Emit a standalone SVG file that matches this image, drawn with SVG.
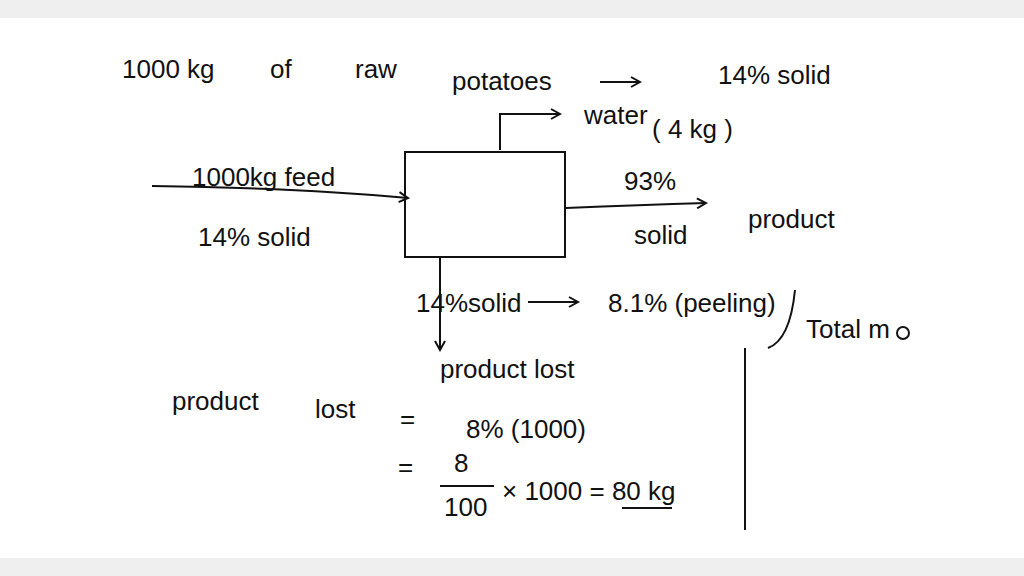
<svg xmlns="http://www.w3.org/2000/svg" width="1024" height="576" viewBox="0 0 1024 576">
<style>
text{font-family:"Liberation Sans",sans-serif;font-size:26px;fill:#111}
.l{stroke:#111;stroke-width:2;fill:none}
</style>
<defs><marker id="a" markerWidth="12" markerHeight="12" refX="10" refY="6" orient="auto" markerUnits="userSpaceOnUse"><path d="M1,1 L10,6 L1,11" class="l"/></marker></defs>
<rect width="1024" height="576" fill="#efefef"/>
<rect x="0" y="18" width="1024" height="540" fill="#fff"/>
<text x="122" y="78">1000 kg</text>
<text x="270" y="78">of</text>
<text x="355" y="78">raw</text>
<text x="452" y="90">potatoes</text>
<text x="718" y="84">14%  solid</text>
<text x="584" y="124" font-size="20">water</text>
<text x="652" y="138">( 4 kg )</text>
<text x="192" y="186" font-size="22">1000kg  feed</text>
<text x="198" y="246">14%  solid</text>
<text x="624" y="190" font-size="22">93%</text>
<text x="634" y="244" font-size="22">solid</text>
<text x="748" y="228">product</text>
<text x="416" y="312" font-size="20">14%solid</text>
<text x="608" y="312" font-size="22">8.1% (peeling)</text>
<text x="806" y="338" font-size="22">Total m</text>
<circle cx="903" cy="333" r="6" class="l" stroke="#2233cc"/>
<text x="440" y="378" font-size="24">product  lost</text>
<text x="172" y="410">product</text>
<text x="315" y="418">lost</text>
<text x="400" y="428">=</text>
<text x="466" y="438">8%  (1000)</text>
<text x="398" y="476">=</text>
<text x="454" y="472" font-size="22">8</text>
<line x1="440" y1="486" x2="494" y2="486" class="l"/>
<text x="444" y="516" font-size="22">100</text>
<text x="502" y="500">× 1000 = 80 kg</text>
<line x1="622" y1="508" x2="672" y2="508" class="l"/>
<g id="connectors">
<path d="M152,186 Q300,188 408,198" class="l" marker-end="url(#a)"/>
<path d="M500,150 V114 H560" class="l" marker-end="url(#a)"/>
<path d="M600,82 H640" class="l" marker-end="url(#a)"/>
<path d="M566,208 Q640,205 706,203" class="l" marker-end="url(#a)"/>
<path d="M440,258 V350" class="l" marker-end="url(#a)"/>
<path d="M528,302 H578" class="l" marker-end="url(#a)"/>
<path d="M745,348 V530" class="l"/>
<path d="M795,290 Q790,340 768,348" class="l"/>
</g>
<g id="box"><rect x="405" y="152" width="160" height="105" class="l"/></g>
</svg>
